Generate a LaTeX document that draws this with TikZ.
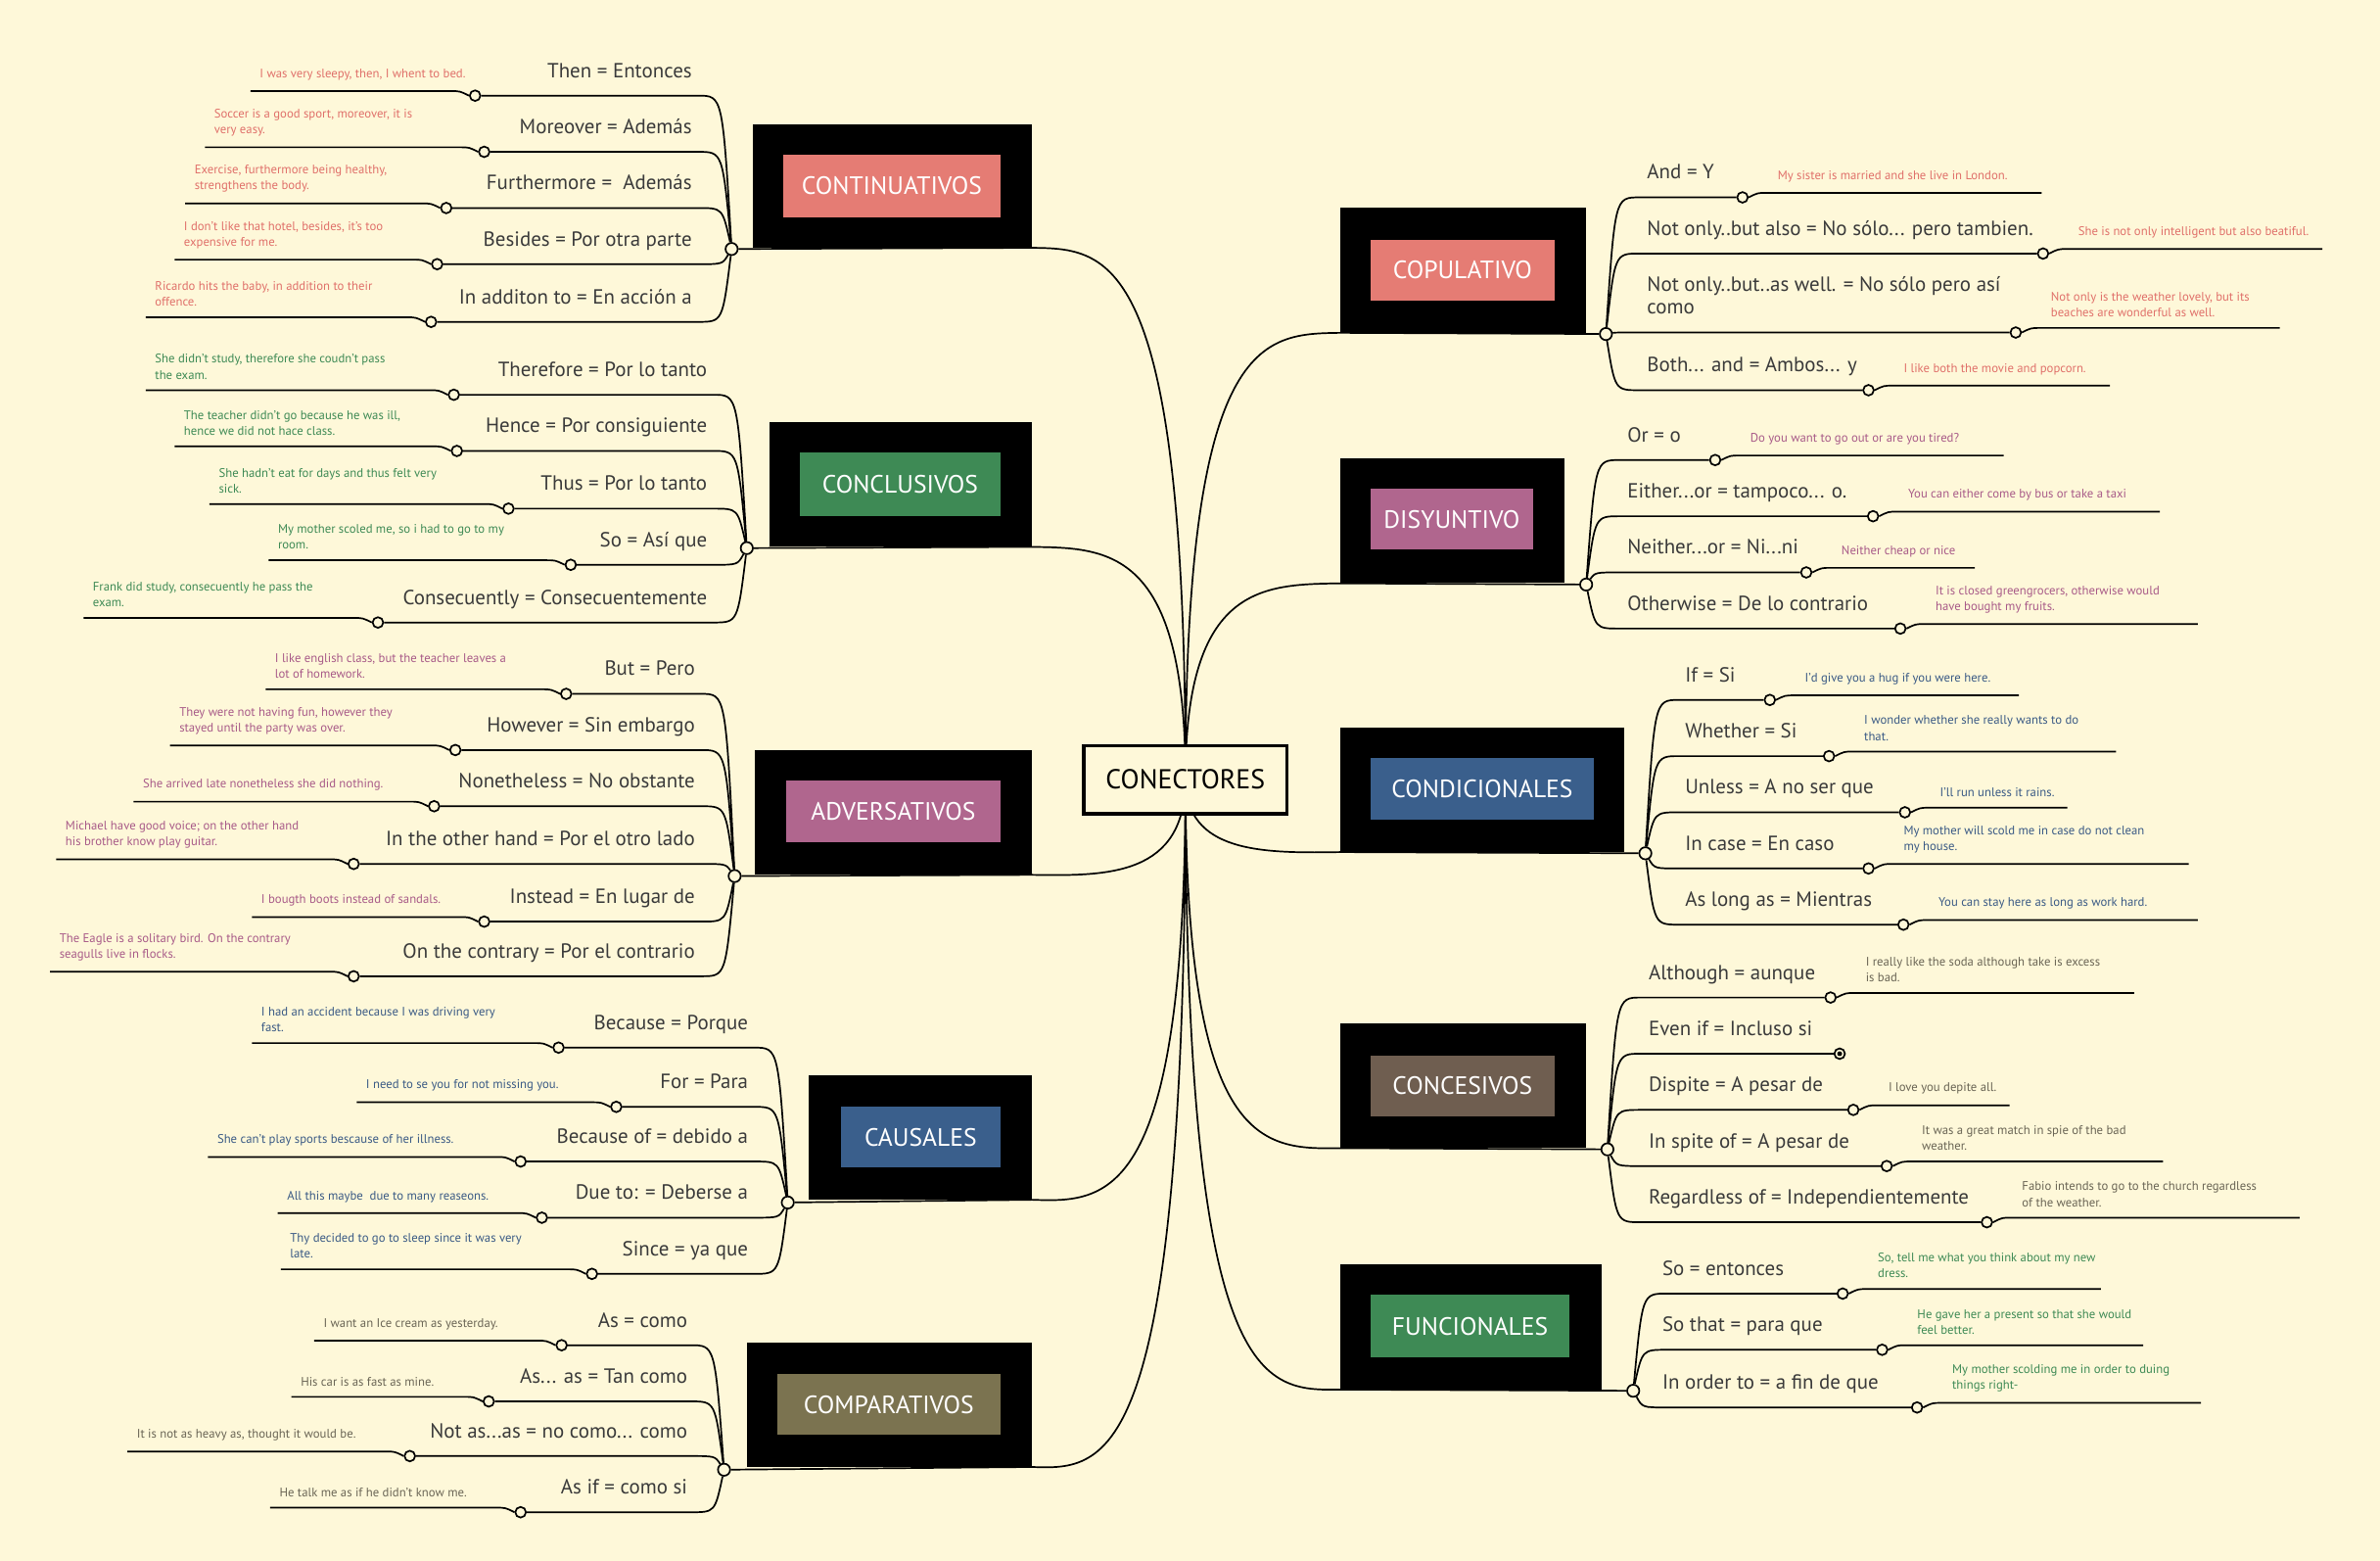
\documentclass[tikz,border=0pt]{standalone}
\usepackage{fontspec}
\setmainfont{PT Sans}
\definecolor{bg}{HTML}{FEF8D9}
\definecolor{cSal}{HTML}{E57C74}
\definecolor{cGrn}{HTML}{3E8A55}
\definecolor{cMau}{HTML}{B0668E}
\definecolor{cBlu}{HTML}{3A5F8C}
\definecolor{cOli}{HTML}{7B7350}
\definecolor{cBrn}{HTML}{6F5E50}
\definecolor{tSal}{HTML}{E0706A}
\definecolor{tGrn}{HTML}{3E8A55}
\definecolor{tMau}{HTML}{A85A88}
\definecolor{tBlu}{HTML}{3A5A85}
\definecolor{tGry}{HTML}{6A6555}
\definecolor{lab}{HTML}{3A3A3A}
\newcounter{itm}
\tikzset{
 ln/.style={line width=1.1pt,black},
 ic/.style={circle,draw=black,line width=1.1pt,fill=bg,inner sep=0pt,minimum size=7pt},
 hubc/.style={circle,draw=black,line width=1.1pt,fill=bg,inner sep=0pt,minimum size=8pt},
 lbl/.style={font=\fontsize{13.5}{15}\selectfont,text=lab,inner sep=0pt},
 smp/.style={font=\fontsize{8.2}{10.5}\selectfont,align=left,inner sep=0pt},
 outerbox/.style={draw=none,fill=black,inner sep=0pt},
 catbox/.style={draw=none,inner sep=0pt,text=white,font=\fontsize{16.5}{18}\selectfont},
}
% left item: #1 underline y, #2 circle x, #3 left end x, #4 label, #5 sample
\newcommand\litem[5]{%
 \stepcounter{itm}%
 \node[ic] (c\theitm) at (#2,#1) {};
 \coordinate (e\theitm) at (#3,#1-3);
 \draw[ln] (\curhub) .. controls (\curhx-6,#1) .. (\curhx-22,#1) -- (c\theitm);
 \draw[ln] (c\theitm.west) .. controls (#2-10,#1-3) .. (#2-16,#1-3) -- (e\theitm);
 \node[lbl,anchor=base east] (l\theitm) at (\curlx,#1-12) {#4};
 \node[smp,text=\curcol,anchor=south west] (s\theitm) at (#3+6,#1-10) {#5};
}
\newcommand\ritem[5]{%
 \stepcounter{itm}%
 \node[ic] (c\theitm) at (#2,#1) {};
 \coordinate (e\theitm) at (#3,#1-3);
 \draw[ln] (\curhub) .. controls (\curhx+6,#1) .. (\curhx+22,#1) -- (c\theitm);
 \draw[ln] (c\theitm.east) .. controls (#2+10,#1-3) .. (#2+16,#1-3) -- (e\theitm);
 \node[lbl,anchor=base west] (l\theitm) at (\curlx,#1-12) {#4};
 \node[smp,text=\curcol,anchor=south west] (s\theitm) at (#2+23,#1-10) {#5};
}
\begin{document}
\begin{tikzpicture}[x=1pt,y=-1pt]
\fill[bg] (0,0) rectangle (1568,1028);
\useasboundingbox (0,0) rectangle (1568,1028);
\coordinate (ctr) at (781,513);
% category boxes
\node[outerbox,minimum width=184pt,minimum height=81pt] (contO) at (588,122.5) {};
\node[catbox,fill=cSal,minimum width=143pt,minimum height=41pt] (cont) at (587.5,122.5) {CONTINUATIVOS};
\node[outerbox,minimum width=173pt,minimum height=82pt] (concO) at (593.5,319) {};
\node[catbox,fill=cGrn,minimum width=132pt,minimum height=42pt] (conc) at (593,319) {CONCLUSIVOS};
\node[outerbox,minimum width=183pt,minimum height=82pt] (advO) at (588.5,535) {};
\node[catbox,fill=cMau,minimum width=141pt,minimum height=41pt] (adv) at (588.5,534.5) {ADVERSATIVOS};
\node[outerbox,minimum width=147pt,minimum height=82pt] (causO) at (606.5,749) {};
\node[catbox,fill=cBlu,minimum width=105pt,minimum height=40pt] (caus) at (606.5,749) {CAUSALES};
\node[outerbox,minimum width=188pt,minimum height=82pt] (compO) at (586,925) {};
\node[catbox,fill=cOli,minimum width=147pt,minimum height=40pt] (comp) at (585.5,925) {COMPARATIVOS};
\node[outerbox,minimum width=162pt,minimum height=82pt] (copO) at (964,178) {};
\node[catbox,fill=cSal,minimum width=121pt,minimum height=40pt] (cop) at (963.5,178) {COPULATIVO};
\node[outerbox,minimum width=148pt,minimum height=82pt] (disO) at (957,343) {};
\node[catbox,fill=cMau,minimum width=107pt,minimum height=40pt] (dis) at (956.5,342) {DISYUNTIVO};
\node[outerbox,minimum width=187pt,minimum height=82pt] (condO) at (976.5,520) {};
\node[catbox,fill=cBlu,minimum width=147pt,minimum height=41pt] (cond) at (976.5,519.5) {CONDICIONALES};
\node[outerbox,minimum width=162pt,minimum height=82pt] (concesO) at (964,715) {};
\node[catbox,fill=cBrn,minimum width=121pt,minimum height=40pt] (conces) at (963.5,715) {CONCESIVOS};
\node[outerbox,minimum width=172pt,minimum height=82pt] (funO) at (969,874) {};
\node[catbox,fill=cGrn,minimum width=131pt,minimum height=41pt] (fun) at (968.5,873.5) {FUNCIONALES};
% hubs
\node[hubc] (hCont) at (482,164) {};
\node[hubc] (hConc) at (492,361) {};
\node[hubc] (hAdv) at (484,577) {};
\node[hubc] (hCaus) at (519,792) {};
\node[hubc] (hComp) at (477,968) {};
\node[hubc] (hCop) at (1058,220) {};
\node[hubc] (hDis) at (1045,385) {};
\node[hubc] (hCond) at (1084,562) {};
\node[hubc] (hConces) at (1059,757) {};
\node[hubc] (hFun) at (1076,916) {};
% main connectors
\draw[ln] (ctr) .. controls (781,164) and (730,164) .. (contO.south east) -- (hCont);
\draw[ln] (ctr) .. controls (781,361) and (730,361) .. (concO.south east) -- (hConc);
\draw[ln] (ctr) .. controls (781,577) and (730,577) .. (advO.south east) -- (hAdv);
\draw[ln] (ctr) .. controls (781,792) and (730,792) .. (causO.south east) -- (hCaus);
\draw[ln] (ctr) .. controls (781,968) and (730,968) .. (compO.south east) -- (hComp);
\draw[ln] (ctr) .. controls (781,220) and (832,220) .. (copO.south west) -- (hCop);
\draw[ln] (ctr) .. controls (781,385) and (832,385) .. (disO.south west) -- (hDis);
\draw[ln] (ctr) .. controls (781,562) and (832,562) .. (condO.south west) -- (hCond);
\draw[ln] (ctr) .. controls (781,757) and (832,757) .. (concesO.south west) -- (hConces);
\draw[ln] (ctr) .. controls (781,916) and (832,916) .. (funO.south west) -- (hFun);
\node[draw=black,line width=2.2pt,fill=bg,minimum width=134pt,minimum height=45pt,inner sep=0pt,font=\fontsize{18}{20}\selectfont] (center) at (781,513.5) {CONECTORES};
% CONTINUATIVOS
\def\curhub{hCont}\def\curhx{482}\def\curlx{456}\def\curcol{tSal}
\litem{63}{313}{165}{Then = Entonces}{I was very sleepy, then, I whent to bed.}
\litem{100}{319}{135}{Moreover = Además}{Soccer is a good sport, moreover, it is\\very easy.}
\litem{137}{294}{122}{Furthermore =\ \ Además}{Exercise, furthermore being healthy,\\strengthens the body.}
\litem{174}{288}{115}{Besides = Por otra parte}{I don't like that hotel, besides, it's too\\expensive for me.}
\litem{212}{284}{96}{In additon to = En acción a}{Ricardo hits the baby, in addition to their\\offence.}
% CONCLUSIVOS
\def\curhub{hConc}\def\curhx{492}\def\curlx{466}\def\curcol{tGrn}
\litem{260}{299}{96}{Therefore = Por lo tanto}{She didn't study, therefore she coudn't pass\\the exam.}
\litem{297}{301}{115}{Hence = Por consiguiente}{The teacher didn't go because he was ill,\\hence we did not hace class.}
\litem{335}{335}{138}{Thus = Por lo tanto}{She hadn't eat for days and thus felt very\\sick.}
\litem{372}{376}{177}{So = Así que}{My mother scoled me, so i had to go to my\\room.}
\litem{410}{249}{55}{Consecuently = Consecuentemente}{Frank did study, consecuently he pass the\\exam.}
% ADVERSATIVOS
\def\curhub{hAdv}\def\curhx{484}\def\curlx{458}\def\curcol{tMau}
\litem{457}{373}{175}{But = Pero}{I like english class, but the teacher leaves a\\lot of homework.}
\litem{494}{300}{112}{However = Sin embargo}{They were not having fun, however they\\stayed until the party was over.}
\litem{531}{286}{88}{Nonetheless = No obstante}{She arrived late nonetheless she did nothing.}
\litem{569}{233}{37}{In the other hand = Por el otro lado}{Michael have good voice; on the other hand\\his brother know play guitar.}
\litem{607}{319}{166}{Instead = En lugar de}{I bougth boots instead of sandals.}
\litem{643}{233}{33}{On the contrary = Por el contrario}{The Eagle is a solitary bird. On the contrary\\seagulls live in flocks.}
% CAUSALES
\def\curhub{hCaus}\def\curhx{519}\def\curlx{493}\def\curcol{tBlu}
\litem{690}{368}{166}{Because = Porque}{I had an accident because I was driving very\\fast.}
\litem{729}{406}{235}{For = Para}{I need to se you for not missing you.}
\litem{765}{343}{137}{Because of = debido a}{She can't play sports bescause of her illness.}
\litem{802}{357}{183}{Due to: = Deberse a}{All this maybe\ \ due to many reaseons.}
\litem{839}{390}{185}{Since = ya que}{Thy decided to go to sleep since it was very\\late.}
% COMPARATIVOS
\def\curhub{hComp}\def\curhx{477}\def\curlx{453}\def\curcol{tGry}
\litem{886}{370}{207}{As = como}{I want an Ice cream as yesterday.}
\litem{923}{322}{192}{As... as = Tan como}{His car is as fast as mine.}
\litem{959}{270}{84}{Not as...as = no como... como}{It is not as heavy as, thought it would be.}
\litem{996}{343}{178}{As if = como si}{He talk me as if he didn't know me.}
% COPULATIVO
\def\curhub{hCop}\def\curhx{1058}\def\curlx{1085}\def\curcol{tSal}
\ritem{130}{1148}{1345}{And = Y}{My sister is married and she live in London.}
\ritem{167}{1346}{1530}{Not only..but also = No sólo... pero tambien.}{She is not only intelligent but also beatiful.}
\ritem{219}{1328}{1502}{\begin{tabular}[b]{@{}l@{}}Not only..but..as well. = No sólo pero así\\como\end{tabular}}{Not only is the weather lovely, but its\\beaches are wonderful as well.}
\ritem{257}{1231}{1390}{Both... and = Ambos... y}{I like both the movie and popcorn.}
% DISYUNTIVO
\def\curhub{hDis}\def\curhx{1045}\def\curlx{1072}\def\curcol{tMau}
\ritem{303}{1130}{1320}{Or = o}{Do you want to go out or are you tired?}
\ritem{340}{1234}{1423}{Either...or = tampoco... o.}{You can either come by bus or take a taxi}
\ritem{377}{1190}{1301}{Neither...or = Ni...ni}{Neither cheap or nice}
\ritem{414}{1252}{1448}{Otherwise = De lo contrario}{It is closed greengrocers, otherwise would\\have bought my fruits.}
% CONDICIONALES
\def\curhub{hCond}\def\curhx{1084}\def\curlx{1110}\def\curcol{tBlu}
\ritem{461}{1166}{1330}{If = Si}{I'd give you a hug if you were here.}
\ritem{498}{1205}{1394}{Whether = Si}{I wonder whether she really wants to do\\that.}
\ritem{535}{1255}{1362}{Unless = A no ser que}{I'll run unless it rains.}
\ritem{572}{1231}{1442}{In case = En caso}{My mother will scold me in case do not clean\\my house.}
\ritem{609}{1254}{1448}{As long as = Mientras}{You can stay here as long as work hard.}
% CONCESIVOS
\def\curhub{hConces}\def\curhx{1059}\def\curlx{1086}\def\curcol{tGry}
\ritem{657}{1206}{1406}{Although = aunque}{I really like the soda although take is excess\\is bad.}
\stepcounter{itm}
\node[ic] (c\theitm) at (1212,694) {};
\fill (c\theitm) circle (1.6pt);
\draw[ln] (\curhub) .. controls (\curhx+6,694) .. (\curhx+22,694) -- (c\theitm);
\node[lbl,anchor=base west] (l\theitm) at (\curlx,682) {Even if = Incluso si};
\ritem{731}{1221}{1324}{Dispite = A pesar de}{I love you depite all.}
\ritem{768}{1243}{1425}{In spite of = A pesar de}{It was a great match in spie of the bad\\weather.}
\ritem{805}{1309}{1515}{Regardless of = Independientemente}{Fabio intends to go to the church regardless\\of the weather.}
% FUNCIONALES
\def\curhub{hFun}\def\curhx{1076}\def\curlx{1095}\def\curcol{tGrn}
\ritem{852}{1214}{1384}{So = entonces}{So, tell me what you think about my new\\dress.}
\ritem{889}{1240}{1412}{So that = para que}{He gave her a present so that she would\\feel better.}
\ritem{927}{1263}{1450}{In order to = a fin de que}{My mother scolding me in order to duing\\things right-}
\end{tikzpicture}
\end{document}
